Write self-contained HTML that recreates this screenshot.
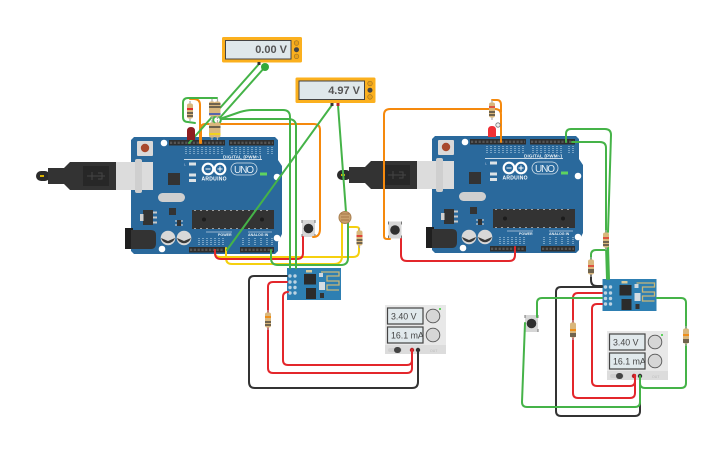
<!DOCTYPE html>
<html><head><meta charset="utf-8"><style>
html,body{margin:0;padding:0;background:#fff}
svg{display:block}
text{font-family:"Liberation Sans",sans-serif}
.w{fill:none;stroke-width:2;stroke-linejoin:round;stroke-linecap:round}
.g{stroke:#45b348}.o{stroke:#f5890d}.y{stroke:#f5d00f}.r{stroke:#e3262b}.k{stroke:#333}
</style></head><body>
<svg width="725" height="453" viewBox="0 0 725 453" xmlns="http://www.w3.org/2000/svg">
<defs>
<g id="uno">
 <!-- board -->
 <path d="M134 137H275L278 140V160L282 166V234L278 242V251L275 254H134L131 251V140Z" fill="#2a699c"/>
 <rect x="137" y="141" width="16" height="15" rx="1" fill="#d9d9d9"/>
 <circle cx="145" cy="148" r="4.2" fill="#a8482c"/>
 <circle cx="164" cy="143" r="3.3" fill="#fff"/>
 <circle cx="277" cy="177" r="3.3" fill="#fff"/>
 <circle cx="277" cy="238" r="3.3" fill="#fff"/>
 <circle cx="162" cy="249" r="3.3" fill="#fff"/>
 <!-- USB cable, drawn over the board -->
 <rect x="36" y="171" width="14" height="10" rx="5" fill="#2b2b2b"/>
 <rect x="40" y="175" width="4" height="2" fill="#d8b000"/>
 <rect x="48" y="168" width="18" height="16" fill="#333"/>
 <path d="M64 168L70 162H116V190H70L64 184Z" fill="#333"/>
 <rect x="83" y="166" width="26" height="20" fill="#272727"/>
 <path d="M87 176H105M92 172V180M98 173h4v6h-4" stroke="#444" stroke-width="1" fill="none"/>
 <rect x="116" y="162" width="37" height="28" fill="#dcdcdc"/>
 <rect x="135" y="159" width="7" height="34" rx="2" fill="#cfcfcf"/>
 <!-- headers -->
 <rect x="169" y="140" width="56" height="5.5" fill="#2e2e2e"/>
 <rect x="229" y="140" width="45" height="5.5" fill="#2e2e2e"/>
 <rect x="189" y="247" width="36" height="5.5" fill="#2e2e2e"/>
 <rect x="240" y="247" width="34" height="5.5" fill="#2e2e2e"/>
 <path d="M170 142.8H224M230 142.8H273M190 249.8H224M241 249.8H273" stroke="#555" stroke-width="2.4" stroke-dasharray="2.2 1.6"/>
 <path d="M186 147v7M190 147v7M194 147v7M198 147v7M202 147v7M206 147v7M210 147v7M214 147v7M218 147v7M222 147v7M232 147v7M236 147v7M240 147v7M244 147v7M248 147v7M252 147v7M256 147v7M260 147v7M268 147v7M272 147v7M199 238v7M203 238v7M207 238v7M211 238v7M215 238v7M219 238v7M223 238v7M243 238v7M249 238v7M255 238v7M261 238v7M267 238v7M272 238v7" stroke="#a9c8de" stroke-width="1.2" stroke-dasharray="1 1"/>
 <text x="223" y="158.5" font-size="4.6" font-weight="bold" fill="#e8f0f5" textLength="38">DIGITAL (PWM~)</text>
 <path d="M184 159.5H262" stroke="#fff" stroke-width=".7"/>
 <text x="218" y="236" font-size="3.6" font-weight="bold" fill="#e8f0f5">POWER</text>
 <text x="248" y="236" font-size="3.6" font-weight="bold" fill="#e8f0f5">ANALOG IN</text>
 <path d="M206 232H232M248 232H272" stroke="#fff" stroke-width=".6"/>
 <!-- leds -->
 <rect x="189" y="162.5" width="7" height="3" fill="#dde3e6"/>
 <rect x="189" y="173.5" width="7" height="3" fill="#dde3e6"/>
 <rect x="189" y="179" width="7" height="3" fill="#dde3e6"/>
 <rect x="260" y="172.5" width="7" height="3" fill="#5fd35f"/>
 <text x="184" y="165.5" font-size="3" fill="#dde">L</text>
 <!-- logo -->
 <circle cx="208" cy="169" r="5.3" fill="none" stroke="#fff" stroke-width="2.2"/>
 <circle cx="220" cy="169" r="5.3" fill="none" stroke="#fff" stroke-width="2.2"/>
 <path d="M205.5 169h5M217.5 169h5M220 166.5v5" stroke="#fff" stroke-width="1"/>
 <text x="214" y="180.5" font-size="5" font-weight="bold" fill="#fff" text-anchor="middle" textLength="25">ARDUINO</text>
 <rect x="231" y="163" width="26" height="12" rx="6" fill="none" stroke="#d7e4ee" stroke-width=".8"/>
 <text x="244" y="173" font-size="10" fill="#e4eef5" text-anchor="middle" textLength="20">UNO</text>
 <!-- components -->
 <rect x="168" y="173" width="12" height="12" fill="#333"/>
 <rect x="158" y="193" width="27" height="9" rx="4.5" fill="#cfcfcf"/>
 <rect x="192" y="210" width="82" height="19" fill="#333"/>
 <path d="M195 210v1M201 210v1M207 210v1M213 210v1M219 210v1M225 210v1M231 210v1M237 210v1M243 210v1M249 210v1M255 210v1M261 210v1M267 210v1M195 229v-1M201 229v-1M207 229v-1M213 229v-1M219 229v-1M225 229v-1M231 229v-1M237 229v-1M243 229v-1M249 229v-1M255 229v-1M261 229v-1M267 229v-1" stroke="#ccc" stroke-width="1.4"/>
 <circle cx="204" cy="219.5" r="2" fill="#1c1c1c"/>
 <circle cx="262" cy="219.5" r="2" fill="#1c1c1c"/>
 <rect x="169" y="208" width="7" height="7" fill="#333"/>
 <rect x="143" y="210" width="10" height="15" fill="#333"/>
 <rect x="140" y="214" width="3.5" height="7" fill="#d0d0d0"/>
 <path d="M153 212.5h4M153 217.5h4M153 222.5h4" stroke="#c9c9c9" stroke-width="2"/>
 <rect x="177" y="220" width="4" height="6" fill="#333"/>
 <path d="M175 221h2M175 225h2M181 221h2M181 225h2" stroke="#ddd" stroke-width="1"/>
 <rect x="125" y="228" width="8" height="21" fill="#1f1f1f"/>
 <path d="M131 230H151Q156 230 156 235V243Q156 249 151 249H131Z" fill="#333"/>
 <circle cx="168" cy="238" r="7.3" fill="#d8d8d8"/>
 <path d="M161 238A7.3 7.3 0 0 0 175 238L168 241Z" fill="#3a3a3a"/>
 <circle cx="184" cy="238" r="7.3" fill="#d8d8d8"/>
 <path d="M177 238A7.3 7.3 0 0 0 191 238L184 241Z" fill="#3a3a3a"/>
</g>
<g id="btn">
 <rect x="0" y="0" width="13" height="17" fill="#d6d6d6"/>
 <path d="M0 0v3M13 0v3M0 14v3M13 14v3" stroke="#777" stroke-width="1"/>
 <circle cx="6.5" cy="8.5" r="4.8" fill="#2f2f2f"/>
</g>
<g id="esp">
 <rect width="54" height="32" fill="#2e7fb2"/>
 <g fill="#bcd3e2">
  <circle cx="3" cy="8" r="1.7"/><circle cx="8" cy="8" r="1.7"/>
  <circle cx="3" cy="14" r="1.7"/><circle cx="8" cy="14" r="1.7"/>
  <circle cx="3" cy="19.5" r="1.7"/><circle cx="8" cy="19.5" r="1.7"/>
  <circle cx="3" cy="25" r="1.7"/><circle cx="8" cy="25" r="1.7"/>
 </g>
 <rect x="17" y="6" width="12" height="10.5" fill="#2b2b2b"/>
 <rect x="19" y="20" width="10" height="11" fill="#2b2b2b"/>
 <rect x="19" y="2" width="6" height="2.5" fill="#d7c99a"/>
 <rect x="32" y="14" width="6" height="8" fill="#d5dde2"/>
 <rect x="33" y="25" width="4" height="5" fill="#333"/>
 <rect x="32" y="5" width="4" height="4" fill="#cfd9df"/>
 <path d="M34 4H52V8H40V13H52V17H40V22H52" fill="none" stroke="#c9b778" stroke-width="1.3"/>
</g>
<g id="ps">
 <rect width="61" height="49" fill="#e8e8e8"/>
 <rect y="40" width="61" height="9" fill="#dcdcdc"/>
 <rect x="2.5" y="3" width="35.5" height="16" fill="#e1e9ec" stroke="#444" stroke-width="1.2"/>
 <rect x="2.5" y="22" width="35.5" height="16" fill="#e1e9ec" stroke="#444" stroke-width="1.2"/>
 <text x="6" y="14.500" font-size="8.800" fill="#444">3.40 V</text>
 <text x="6" y="33.500" font-size="8.800" fill="#444">16.1 mA</text>
 <circle cx="48" cy="11" r="6.8" fill="#d6d6d6" stroke="#555" stroke-width=".9"/>
 <circle cx="48" cy="30" r="6.8" fill="#d6d6d6" stroke="#555" stroke-width=".9"/>
 <rect x="54" y="3" width="2" height="2" fill="#5fd35f"/>
 <rect x="3" y="43" width="14" height="4" rx="2" fill="#cfcfcf"/>
 <rect x="9" y="42" width="7" height="6" rx="3" fill="#444"/>
 <text x="45" y="47" font-size="3.5" fill="#bbb">OUT</text>
 <circle cx="27" cy="45" r="2.2" fill="#b3262a"/>
 <circle cx="33" cy="45" r="2.2" fill="#333"/>
</g>
<g id="vm">
 <rect width="80" height="25.5" rx="1.5" fill="#fbb01e"/>
 <rect x="3.5" y="3.5" width="65.5" height="18.5" fill="#dfe8eb" stroke="#444" stroke-width="1"/>
 <circle cx="74.5" cy="6" r="2.3" fill="#e9a016" stroke="#96702a" stroke-width=".6"/>
 <circle cx="74.5" cy="12.7" r="2.5" fill="#444"/>
 <circle cx="74.5" cy="19.4" r="2.3" fill="#e9a016" stroke="#96702a" stroke-width=".6"/>
</g>
<g id="res">
 <path d="M0 -10V-7M0 7V10" stroke="#aaa" stroke-width="1.2"/>
 <rect x="-3" y="-7.5" width="6" height="15" rx="2" fill="#d9b77c"/>
</g>
</defs>

<use href="#uno"/>
<use href="#uno" x="301" y="-1"/>

<use href="#btn" x="302" y="220"/>
<use href="#btn" x="388.500" y="221.500"/>
<use href="#btn" x="525" y="315"/>
<use href="#esp" x="287" y="268"/>
<use href="#esp" x="602.500" y="279"/>
<use href="#ps" x="385" y="305"/>
<use href="#ps" x="607" y="331"/>

<!-- wires -->
<g class="w o">
 <path d="M201 143V128Q201 124 205 124H314Q320 124 320 130V229Q320 237 313 237"/>
 <path d="M190 99H194Q200 99 200 105V143"/>
 <path d="M390 239H387Q384 239 384 236V115Q384 109 390 109H495Q501 109 501 115V142"/>
 <path d="M492 100H497Q501 100 501 105V112"/>
</g>
<g class="w y">
 <path d="M226 248V258Q226 264 232 264H334Q342 264 342 256V223"/>
 <path d="M215 250V253Q215 257 220 257H353Q359 257 359 251V245"/>
 <path d="M359 231V229Q359 227 356 227H348"/>
</g>
<g class="w r">
 <path d="M303 237V253Q303 259 297 259H221Q215 259 215 253V250"/>
 <path d="M287 282H273Q268 282 268 287V368Q268 373 273 373H407Q412 373 412 368V350"/>
 <path d="M287 292H288Q283 292 283 297V360Q283 365 288 365H407Q412 365 412 360V350"/>
 <path d="M401 239V255Q401 261 407 261H509Q515 261 515 255V247"/>
 <path d="M602 293H578Q573 293 573 298V393Q573 398 578 398H630Q635 398 635 393V375"/>
 <path d="M602 304H597Q592 304 592 309V381Q592 386 597 386H630Q635 386 635 381V375"/>
</g>
<g class="w k">
 <path d="M287 276H254Q249 276 249 281V382Q249 388 255 388H412Q418 388 418 382V350"/>
 <path d="M602 287H561Q556 287 556 292V411Q556 416 561 416H635Q640 416 640 411V375"/>
 <path d="M591 273V280Q591 286 597 286H602"/>
</g>
<g class="w g">
 <path d="M259 64L189 143"/>
 <path d="M265 67L217 121"/>
 <path d="M217 120L240 112Q247 110 252 110H283Q290 110 290 117V268"/>
 <path d="M217 119H288Q296 119 296 126V268"/>
 <path d="M217 98H188Q183 98 183 103V117Q183 122 188 122L195 123"/>
 <path d="M332 105L227 250"/>
 <path d="M338 105L346 212"/>
 <path d="M271 250V258Q271 265 278 265H341Q348 265 348 258V223"/>
 <path d="M566 142V134Q566 129 571 129H605Q611 129 611 135L608 232"/>
 <path d="M572 142H600Q606 142 606 148V233"/>
 <path d="M606 246L607 279M608 246L609 279"/>
 <path d="M606 250H596Q591 250 591 255V260"/>
 <path d="M602 298H542Q537 298 537 303V317"/>
 <path d="M525 323L522 402Q522 407 527 407H635Q640 407 640 402V376"/>
 <path d="M657 298H681Q686 298 686 303V383Q686 388 681 388H645Q640 388 640 383"/>
</g>

<circle cx="265" cy="67" r="4" fill="#34a93a"/>
<circle cx="217" cy="120" r="3.8" fill="#fff" stroke="#45b348" stroke-width="2"/>

<!-- LEDs -->
<path d="M187 140V131Q187 127 191 127Q195 127 195 131V140Z" fill="#8e1e22"/>
<path d="M488 137V130Q488 126 492 126Q496 126 496 130V137Z" fill="#ef2f35"/>
<circle cx="498" cy="125" r="2.2" fill="#eee" stroke="#777" stroke-width=".8"/>

<!-- resistors -->
<g>
 <use href="#res" x="190" y="111"/><path d="M187 109h6" stroke="#e02020" stroke-width="1.8"/><path d="M187 113h6M187 116h6" stroke="#333" stroke-width="1.300"/>
 <use href="#res" x="212" y="109"/><path d="M209 104h6M209 107h6" stroke="#333" stroke-width="1.300"/><path d="M209 114h6" stroke="#2040c0" stroke-width="1.400"/>
 <use href="#res" x="217.500" y="109"/><path d="M214.500 104h6M214.500 107h6" stroke="#333" stroke-width="1.300"/><path d="M214.500 114h6" stroke="#2040c0" stroke-width="1.400"/>
 <use href="#res" x="212" y="130"/><path d="M209 127h6" stroke="#333" stroke-width="1.300"/><path d="M209 134h6" stroke="#f1d21d" stroke-width="2"/>
 <use href="#res" x="217.500" y="130"/><path d="M214.500 127h6" stroke="#333" stroke-width="1.300"/><path d="M214.500 134h6" stroke="#f1d21d" stroke-width="2"/>
 <use href="#res" x="359.500" y="238"/><path d="M356.500 236h6" stroke="#e02020" stroke-width="1.500"/><path d="M356.500 240h6M356.500 243h6" stroke="#333" stroke-width="1.300"/>
 <use href="#res" x="268" y="320"/><path d="M265 317h6" stroke="#f08a10" stroke-width="1.800"/><path d="M265 322h6M265 325h6" stroke="#333" stroke-width="1.300"/>
 <use href="#res" x="492" y="110"/><path d="M489 107h6" stroke="#e02020" stroke-width="1.300"/><path d="M489 112h6M489 115h6" stroke="#333" stroke-width="1.300"/>
 <use href="#res" x="606" y="240"/><path d="M603 238h6" stroke="#e02020" stroke-width="1.300"/><path d="M603 242h6M603 245h6" stroke="#333" stroke-width="1.300"/>
 <use href="#res" x="591" y="267"/><path d="M588 266h6" stroke="#e02020" stroke-width="1.300"/><path d="M588 270h6M588 272h6" stroke="#333" stroke-width="1.300"/>
 <use href="#res" x="573" y="330"/><path d="M570 330h6" stroke="#f08a10" stroke-width="1.800"/><path d="M570 334h6M570 336h6" stroke="#333" stroke-width="1.300"/>
 <use href="#res" x="686" y="336"/><path d="M683 335h6" stroke="#f08a10" stroke-width="1.800"/><path d="M683 340h6M683 342h6" stroke="#333" stroke-width="1.300"/>
</g>

<!-- LDR -->
<circle cx="345" cy="217.500" r="6" fill="#c9a06c" stroke="#a97f50" stroke-width="1"/>
<path d="M341 214h8M341 217h8M341 220h8" stroke="#9b6a3c" stroke-width=".8"/>

<!-- voltmeters -->
<use href="#vm" x="222" y="37"/>
<text x="287" y="53" font-size="11" font-weight="bold" fill="#555" text-anchor="end">0.00 V</text>
<use href="#vm" x="295.500" y="77.500"/>
<text x="360" y="94" font-size="11" font-weight="bold" fill="#555" text-anchor="end">4.97 V</text>
<rect x="257.500" y="62" width="3" height="3" fill="#333"/>
<rect x="330.500" y="103" width="3" height="3" fill="#333"/>
<rect x="336.500" y="103" width="3" height="3" fill="#b3262a"/>
</svg>
</body></html>
